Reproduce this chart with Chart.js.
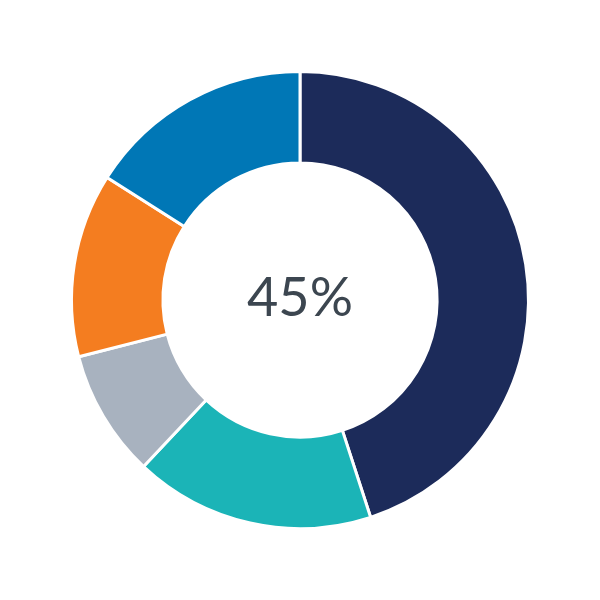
<!DOCTYPE html>
<html>
<head>
<meta charset="utf-8">
<script src="https://cdn.jsdelivr.net/npm/chart.js@4/dist/chart.umd.min.js"></script>
<style>
html,body{margin:0;padding:0;background:#fff;}
#wrap{width:600px;height:600px;position:relative;}
</style>
</head>
<body>
<div id="wrap"><canvas id="c" width="600" height="600"></canvas></div>
<script>
const categories = ["A", "B", "C", "D", "E"];
const values = [45, 17, 9, 13, 16];
const colors = ["#1c2b5a", "#1bb4b7", "#a8b2bf", "#f47d20", "#0077b6"];
const centerLabel = "45%";

const centerText = {
  id: "centerText",
  afterDraw(chart) {
    const meta = chart.getDatasetMeta(0);
    if (!meta.data.length) return;
    const arc = meta.data[0];
    const ctx = chart.ctx;
    ctx.save();
    ctx.font = "54px Lato";
    ctx.fillStyle = "#3c4650";
    ctx.textAlign = "center";
    ctx.textBaseline = "alphabetic";
    ctx.fillText(centerLabel, arc.x, arc.y + 16);
    ctx.restore();
  }
};

new Chart(document.getElementById("c"), {
  type: "doughnut",
  data: {
    labels: categories,
    datasets: [{
      data: values,
      backgroundColor: colors,
      borderColor: "#ffffff",
      borderWidth: 3,
      hoverOffset: 0
    }]
  },
  options: {
    responsive: false,
    animation: false,
    cutout: "60%",
    layout: { padding: 70 },
    plugins: { legend: { display: false }, tooltip: { enabled: false } }
  },
  plugins: [centerText]
});
</script>
</body>
</html>
